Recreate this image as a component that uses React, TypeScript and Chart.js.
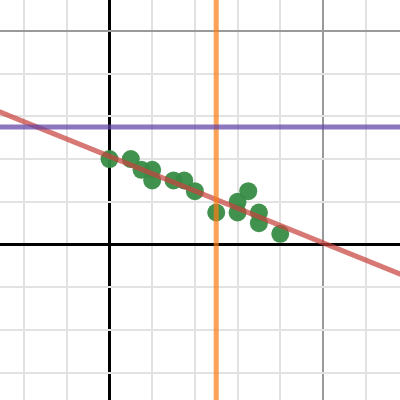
import React, { useEffect, useRef } from "react";
import { Chart, registerables } from "chart.js";

Chart.register(...registerables);

// Scatter data (green points)
const pointX = [0, 1, 1.5, 2, 2, 3, 3.5, 4, 5, 6, 6, 6.5, 7, 7, 8];
const pointY = [4, 4, 3.5, 3.5, 3, 3, 3, 2.5, 1.5, 2, 1.5, 2.5, 1.5, 1, 0.5];

// Fit line (red)
const fitLineX = [-6, 14];
const fitLineY = [6.56, -1.54];

// Vertical line (orange)
const verticalLineX = [5, 5];
const verticalLineY = [-8, 12];

// Horizontal line (purple)
const horizontalLineX = [-6, 14];
const horizontalLineY = [5.5, 5.5];

// Viewport
const xRange = [-5.13, 13.61];
const yRange = [-7.28, 11.45];
const minorStep = 2;
const majorStep = 10;

function zip(xs: number[], ys: number[]) {
  return xs.map((x, i) => ({ x, y: ys[i] }));
}

function gridColor(ctx: any) {
  const v = ctx.tick ? ctx.tick.value : 1;
  if (Math.abs(v) < 1e-9) return "#000000";
  if (Math.abs(v % majorStep) < 1e-9) return "#9a9a9a";
  return "#e2e2e2";
}
function gridWidth(ctx: any) {
  const v = ctx.tick ? ctx.tick.value : 1;
  if (Math.abs(v) < 1e-9) return 3;
  return 2;
}

export default function App() {
  const ref = useRef<HTMLCanvasElement | null>(null);
  useEffect(() => {
    document.body.style.margin = "0";
    if (!ref.current) return;
    const chart = new Chart(ref.current, {
      type: "scatter",
      data: {
        datasets: [
          {
            label: "points",
            data: zip(pointX, pointY),
            backgroundColor: "rgba(56,140,70,0.95)",
            borderColor: "rgba(56,140,70,0)",
            borderWidth: 0,
            pointRadius: 9,
            pointHoverRadius: 9,
            order: 4,
          },
          {
            label: "fit",
            data: zip(fitLineX, fitLineY),
            showLine: true,
            borderColor: "rgba(199,68,64,0.72)",
            borderWidth: 5,
            pointRadius: 0,
            order: 3,
          },
          {
            label: "vertical",
            data: zip(verticalLineX, verticalLineY),
            showLine: true,
            borderColor: "rgba(250,126,25,0.72)",
            borderWidth: 5,
            pointRadius: 0,
            order: 2,
          },
          {
            label: "horizontal",
            data: zip(horizontalLineX, horizontalLineY),
            showLine: true,
            borderColor: "rgba(96,66,166,0.72)",
            borderWidth: 5,
            pointRadius: 0,
            order: 1,
          },
        ],
      },
      options: {
        animation: false,
        responsive: true,
        maintainAspectRatio: false,
        layout: { padding: 0, autoPadding: false },
        plugins: {
          legend: { display: false },
          tooltip: { enabled: false },
        },
        events: [],
        scales: {
          x: {
            type: "linear",
            min: xRange[0],
            max: xRange[1],
            ticks: { display: false, stepSize: minorStep, includeBounds: false },
            border: { display: false },
            grid: { drawTicks: false, color: gridColor, lineWidth: gridWidth },
          },
          y: {
            type: "linear",
            min: yRange[0],
            max: yRange[1],
            ticks: { display: false, stepSize: minorStep, includeBounds: false },
            border: { display: false },
            grid: { drawTicks: false, color: gridColor, lineWidth: gridWidth },
          },
        },
      },
    });
    return () => chart.destroy();
  }, []);
  return (
    <div style={{ width: 400, height: 400, position: "relative", background: "#fff" }}>
      <canvas ref={ref} />
    </div>
  );
}
